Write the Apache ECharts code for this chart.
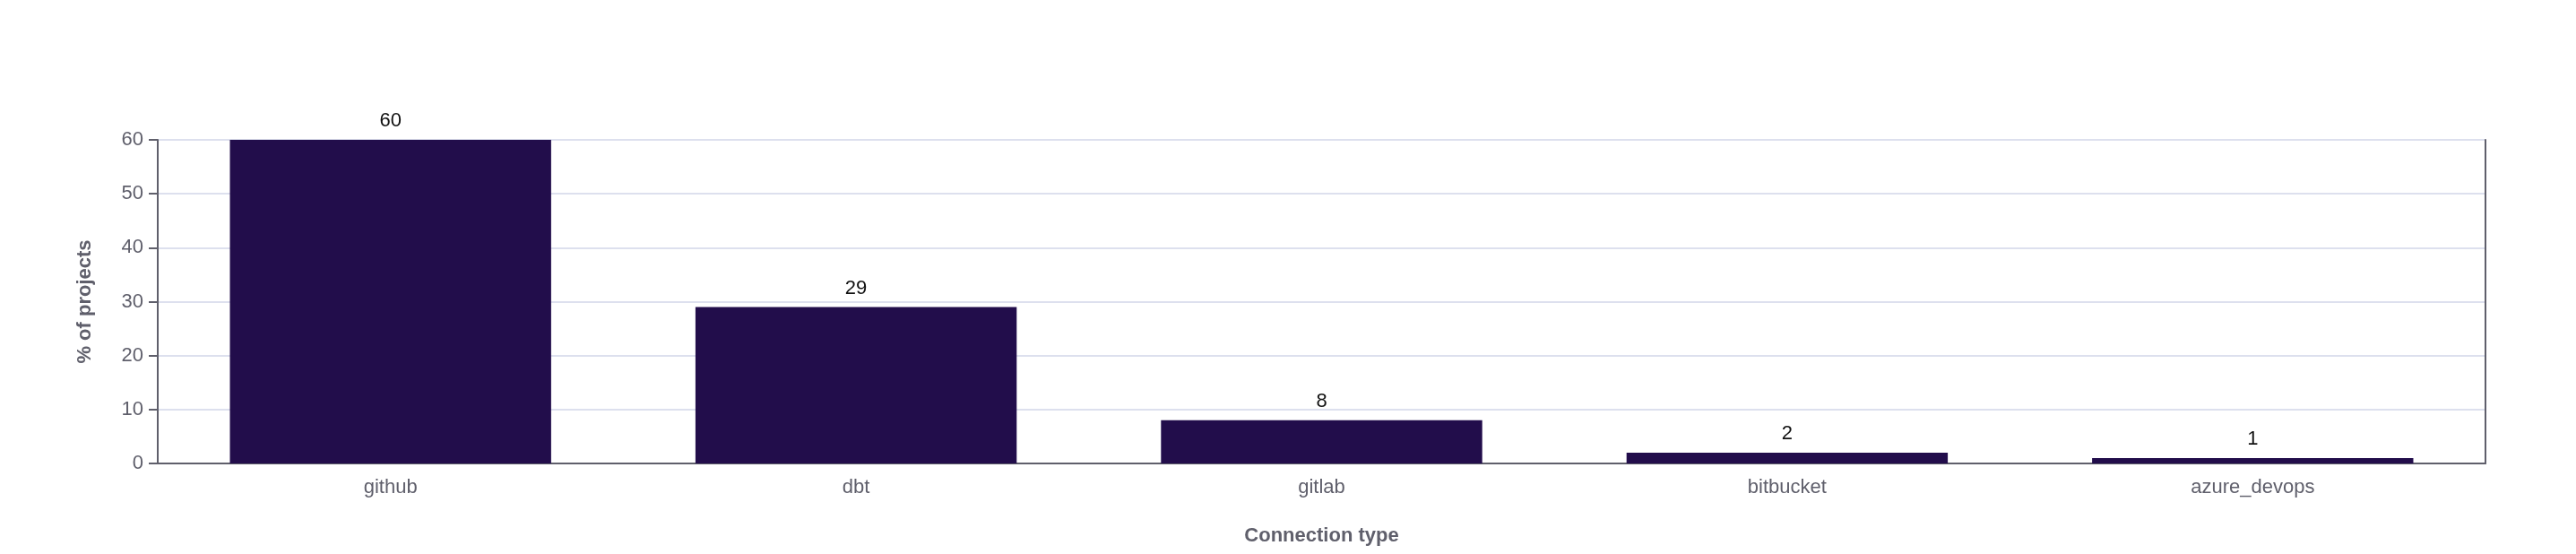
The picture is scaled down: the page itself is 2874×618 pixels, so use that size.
<!DOCTYPE html>
<html><head><meta charset="utf-8">
<script src="https://cdn.jsdelivr.net/npm/echarts@6/dist/echarts.min.js"></script>
<style>html,body{margin:0;padding:0;background:#fff}#c{width:2874px;height:618px}</style>
</head><body><div id="c"></div>
<script>
const categories = ['github','dbt','gitlab','bitbucket','azure_devops'];
const values = [60,29,8,2,1];
const chart = echarts.init(document.getElementById('c'));
chart.setOption({
  animation:false,
  grid:{left:176,right:101,top:156,bottom:101},
  xAxis:{type:'category',data:categories,name:'Connection type',nameLocation:'middle',nameGap:70,
    nameTextStyle:{fontFamily:'Liberation Sans',fontSize:22,fontWeight:'bold',color:'#5f5f6b'},
    axisLine:{lineStyle:{color:'#5f5f6b',width:2}},axisTick:{length:10,lineStyle:{color:'#5f5f6b',width:2}},
    axisLabel:{fontFamily:'Liberation Sans',fontSize:22,color:'#5f5f6b',margin:16}},
  yAxis:[{type:'value',min:0,max:60,interval:10,name:'% of projects',nameLocation:'middle',nameGap:70,
    nameTextStyle:{fontFamily:'Liberation Sans',fontSize:22,fontWeight:'bold',color:'#5f5f6b'},
    axisLine:{show:true,lineStyle:{color:'#5f5f6b',width:2}},axisTick:{show:true,length:10,lineStyle:{color:'#5f5f6b',width:2}},
    axisLabel:{fontFamily:'Liberation Sans',fontSize:22,color:'#5f5f6b',margin:16},
    splitLine:{lineStyle:{color:'#dde0ee',width:2}}},
   {type:'value',min:0,max:60,interval:10,position:'right',axisLine:{show:true,lineStyle:{color:'#5f5f6b',width:2}},
    axisTick:{show:false},axisLabel:{show:false},splitLine:{show:false}}],
  series:[{type:'bar',data:values,barWidth:'69%',itemStyle:{color:'#220d4b'},
    label:{show:true,position:'top',distance:10,fontFamily:'Liberation Sans',fontSize:22,color:'#111'}}]
});
</script></body></html>
